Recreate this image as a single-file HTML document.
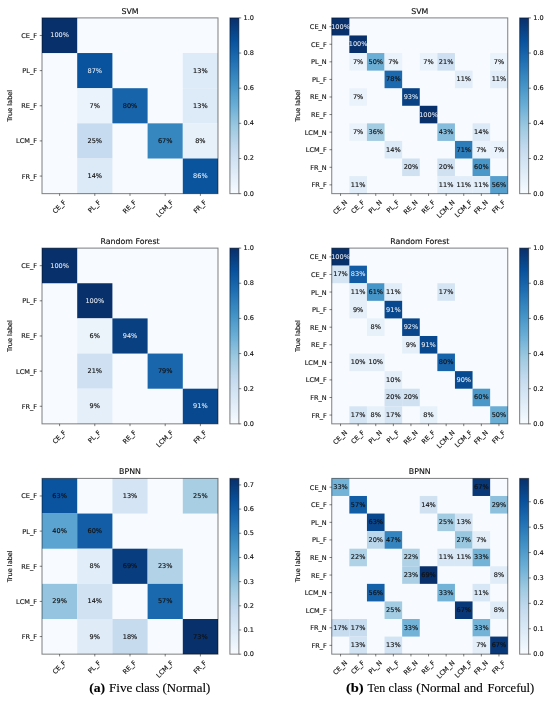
<!DOCTYPE html><html><head><meta charset="utf-8"><title>Confusion matrices</title>
<style>html,body{margin:0;padding:0;background:#fff}svg{display:block}text{font-family:"DejaVu Sans","Liberation Sans",sans-serif;fill:#111;stroke:#111;stroke-width:.18px;stroke-opacity:.7}.cap{font-family:"Liberation Serif","DejaVu Serif",serif;fill:#000;stroke:#000;stroke-width:.2px;stroke-opacity:.6}</style></head><body>
<svg width="550" height="701" viewBox="0 0 550 701">
<rect width="550" height="701" fill="#fff"/>
<defs>
<linearGradient id="cb" x1="0" y1="1" x2="0" y2="0">
<stop offset="0.0000" stop-color="#f7fbff"/>
<stop offset="0.0312" stop-color="#f1f7fd"/>
<stop offset="0.0625" stop-color="#eaf3fb"/>
<stop offset="0.0938" stop-color="#e4eff9"/>
<stop offset="0.1250" stop-color="#deebf7"/>
<stop offset="0.1562" stop-color="#d8e7f5"/>
<stop offset="0.1875" stop-color="#d2e3f3"/>
<stop offset="0.2188" stop-color="#ccdff1"/>
<stop offset="0.2500" stop-color="#c6dbef"/>
<stop offset="0.2812" stop-color="#bcd7eb"/>
<stop offset="0.3125" stop-color="#b2d2e8"/>
<stop offset="0.3438" stop-color="#a8cee4"/>
<stop offset="0.3750" stop-color="#9dcae1"/>
<stop offset="0.4062" stop-color="#91c3de"/>
<stop offset="0.4375" stop-color="#84bcdb"/>
<stop offset="0.4688" stop-color="#77b5d9"/>
<stop offset="0.5000" stop-color="#6aaed6"/>
<stop offset="0.5312" stop-color="#60a7d2"/>
<stop offset="0.5625" stop-color="#56a0ce"/>
<stop offset="0.5938" stop-color="#4b98ca"/>
<stop offset="0.6250" stop-color="#4191c6"/>
<stop offset="0.6562" stop-color="#3989c1"/>
<stop offset="0.6875" stop-color="#3181bd"/>
<stop offset="0.7188" stop-color="#2979b9"/>
<stop offset="0.7500" stop-color="#2070b4"/>
<stop offset="0.7812" stop-color="#1a68ae"/>
<stop offset="0.8125" stop-color="#1460a8"/>
<stop offset="0.8438" stop-color="#0e58a2"/>
<stop offset="0.8750" stop-color="#08509b"/>
<stop offset="0.9062" stop-color="#08488e"/>
<stop offset="0.9375" stop-color="#084082"/>
<stop offset="0.9688" stop-color="#083776"/>
<stop offset="1.0000" stop-color="#08306b"/>
</linearGradient>
</defs>
<g>
<rect x="42.00" y="17.90" width="176.00" height="175.75" fill="#f7fbff"/>
<rect x="42.00" y="17.90" width="35.20" height="35.15" fill="#08306b"/>
<rect x="77.20" y="53.05" width="35.20" height="35.15" fill="#09529d"/>
<rect x="182.80" y="53.05" width="35.20" height="35.15" fill="#ddeaf7"/>
<rect x="77.20" y="88.20" width="35.20" height="35.15" fill="#eaf2fb"/>
<rect x="112.40" y="88.20" width="35.20" height="35.15" fill="#1764ab"/>
<rect x="182.80" y="88.20" width="35.20" height="35.15" fill="#ddeaf7"/>
<rect x="77.20" y="123.35" width="35.20" height="35.15" fill="#c6dbef"/>
<rect x="147.60" y="123.35" width="35.20" height="35.15" fill="#3686c0"/>
<rect x="182.80" y="123.35" width="35.20" height="35.15" fill="#e7f1fa"/>
<rect x="77.20" y="158.50" width="35.20" height="35.15" fill="#dce9f6"/>
<rect x="182.80" y="158.50" width="35.20" height="35.15" fill="#0a549e"/>
<rect x="42.00" y="17.90" width="176.00" height="175.75" fill="none" stroke="#000" stroke-width="1" stroke-opacity="0.5"/>
<text x="59.60" y="37.44" font-size="6.55" text-anchor="middle" style="fill:#fff;fill-opacity:.9;stroke:#fff;stroke-opacity:.3">100%</text>
<text x="94.80" y="72.59" font-size="6.55" text-anchor="middle" style="fill:#fff;fill-opacity:.9;stroke:#fff;stroke-opacity:.3">87%</text>
<text x="200.40" y="72.59" font-size="6.55" text-anchor="middle">13%</text>
<text x="94.80" y="107.74" font-size="6.55" text-anchor="middle">7%</text>
<text x="130.00" y="107.74" font-size="6.55" text-anchor="middle">80%</text>
<text x="200.40" y="107.74" font-size="6.55" text-anchor="middle">13%</text>
<text x="94.80" y="142.89" font-size="6.55" text-anchor="middle">25%</text>
<text x="165.20" y="142.89" font-size="6.55" text-anchor="middle">67%</text>
<text x="200.40" y="142.89" font-size="6.55" text-anchor="middle">8%</text>
<text x="94.80" y="178.04" font-size="6.55" text-anchor="middle">14%</text>
<text x="200.40" y="178.04" font-size="6.55" text-anchor="middle" style="fill:#fff;fill-opacity:.9;stroke:#fff;stroke-opacity:.3">86%</text>
<text x="130.00" y="13.70" font-size="7.86" text-anchor="middle">SVM</text>
<line x1="39.70" y1="35.47" x2="42.00" y2="35.47" stroke="#000" stroke-width="1" stroke-opacity="0.5"/>
<text x="37.00" y="37.96" font-size="6.55" text-anchor="end">CE_F</text>
<line x1="39.70" y1="70.62" x2="42.00" y2="70.62" stroke="#000" stroke-width="1" stroke-opacity="0.5"/>
<text x="37.00" y="73.11" font-size="6.55" text-anchor="end">PL_F</text>
<line x1="39.70" y1="105.78" x2="42.00" y2="105.78" stroke="#000" stroke-width="1" stroke-opacity="0.5"/>
<text x="37.00" y="108.26" font-size="6.55" text-anchor="end">RE_F</text>
<line x1="39.70" y1="140.92" x2="42.00" y2="140.92" stroke="#000" stroke-width="1" stroke-opacity="0.5"/>
<text x="37.00" y="143.41" font-size="6.55" text-anchor="end">LCM_F</text>
<line x1="39.70" y1="176.07" x2="42.00" y2="176.07" stroke="#000" stroke-width="1" stroke-opacity="0.5"/>
<text x="37.00" y="178.56" font-size="6.55" text-anchor="end">FR_F</text>
<line x1="59.60" y1="193.65" x2="59.60" y2="195.95" stroke="#000" stroke-width="1" stroke-opacity="0.5"/>
<text font-size="6.55" text-anchor="middle" transform="translate(59.60,207.25) rotate(-45)" y="1.67">CE_F</text>
<line x1="94.80" y1="193.65" x2="94.80" y2="195.95" stroke="#000" stroke-width="1" stroke-opacity="0.5"/>
<text font-size="6.55" text-anchor="middle" transform="translate(94.80,206.85) rotate(-45)" y="1.67">PL_F</text>
<line x1="130.00" y1="193.65" x2="130.00" y2="195.95" stroke="#000" stroke-width="1" stroke-opacity="0.5"/>
<text font-size="6.55" text-anchor="middle" transform="translate(130.00,207.24) rotate(-45)" y="1.67">RE_F</text>
<line x1="165.20" y1="193.65" x2="165.20" y2="195.95" stroke="#000" stroke-width="1" stroke-opacity="0.5"/>
<text font-size="6.55" text-anchor="middle" transform="translate(165.20,209.07) rotate(-45)" y="1.67">LCM_F</text>
<line x1="200.40" y1="193.65" x2="200.40" y2="195.95" stroke="#000" stroke-width="1" stroke-opacity="0.5"/>
<text font-size="6.55" text-anchor="middle" transform="translate(200.40,207.11) rotate(-45)" y="1.67">FR_F</text>
<text font-size="6.55" text-anchor="middle" transform="translate(11.70,105.78) rotate(-90)">True label</text>
<rect x="229.90" y="17.90" width="9.00" height="175.75" fill="url(#cb)" stroke="#000" stroke-width="1" stroke-opacity="0.5"/>
<line x1="238.90" y1="193.65" x2="241.20" y2="193.65" stroke="#000" stroke-width="1" stroke-opacity="0.5"/>
<text x="243.50" y="195.62" font-size="6.55">0.0</text>
<line x1="238.90" y1="158.50" x2="241.20" y2="158.50" stroke="#000" stroke-width="1" stroke-opacity="0.5"/>
<text x="243.50" y="160.47" font-size="6.55">0.2</text>
<line x1="238.90" y1="123.35" x2="241.20" y2="123.35" stroke="#000" stroke-width="1" stroke-opacity="0.5"/>
<text x="243.50" y="125.32" font-size="6.55">0.4</text>
<line x1="238.90" y1="88.20" x2="241.20" y2="88.20" stroke="#000" stroke-width="1" stroke-opacity="0.5"/>
<text x="243.50" y="90.17" font-size="6.55">0.6</text>
<line x1="238.90" y1="53.05" x2="241.20" y2="53.05" stroke="#000" stroke-width="1" stroke-opacity="0.5"/>
<text x="243.50" y="55.02" font-size="6.55">0.8</text>
<line x1="238.90" y1="17.90" x2="241.20" y2="17.90" stroke="#000" stroke-width="1" stroke-opacity="0.5"/>
<text x="243.50" y="19.87" font-size="6.55">1.0</text>
</g>
<g>
<rect x="42.00" y="248.10" width="176.00" height="175.75" fill="#f7fbff"/>
<rect x="42.00" y="248.10" width="35.20" height="35.15" fill="#08306b"/>
<rect x="77.20" y="283.25" width="35.20" height="35.15" fill="#08306b"/>
<rect x="77.20" y="318.40" width="35.20" height="35.15" fill="#ebf3fb"/>
<rect x="112.40" y="318.40" width="35.20" height="35.15" fill="#084082"/>
<rect x="77.20" y="353.55" width="35.20" height="35.15" fill="#cee0f2"/>
<rect x="147.60" y="353.55" width="35.20" height="35.15" fill="#1966ad"/>
<rect x="77.20" y="388.70" width="35.20" height="35.15" fill="#e5eff9"/>
<rect x="182.80" y="388.70" width="35.20" height="35.15" fill="#08488e"/>
<rect x="42.00" y="248.10" width="176.00" height="175.75" fill="none" stroke="#000" stroke-width="1" stroke-opacity="0.5"/>
<text x="59.60" y="267.64" font-size="6.55" text-anchor="middle" style="fill:#fff;fill-opacity:.9;stroke:#fff;stroke-opacity:.3">100%</text>
<text x="94.80" y="302.79" font-size="6.55" text-anchor="middle" style="fill:#fff;fill-opacity:.9;stroke:#fff;stroke-opacity:.3">100%</text>
<text x="94.80" y="337.94" font-size="6.55" text-anchor="middle">6%</text>
<text x="130.00" y="337.94" font-size="6.55" text-anchor="middle" style="fill:#fff;fill-opacity:.9;stroke:#fff;stroke-opacity:.3">94%</text>
<text x="94.80" y="373.09" font-size="6.55" text-anchor="middle">21%</text>
<text x="165.20" y="373.09" font-size="6.55" text-anchor="middle">79%</text>
<text x="94.80" y="408.24" font-size="6.55" text-anchor="middle">9%</text>
<text x="200.40" y="408.24" font-size="6.55" text-anchor="middle" style="fill:#fff;fill-opacity:.9;stroke:#fff;stroke-opacity:.3">91%</text>
<text x="130.00" y="243.90" font-size="7.86" text-anchor="middle">Random Forest</text>
<line x1="39.70" y1="265.68" x2="42.00" y2="265.68" stroke="#000" stroke-width="1" stroke-opacity="0.5"/>
<text x="37.00" y="268.16" font-size="6.55" text-anchor="end">CE_F</text>
<line x1="39.70" y1="300.82" x2="42.00" y2="300.82" stroke="#000" stroke-width="1" stroke-opacity="0.5"/>
<text x="37.00" y="303.31" font-size="6.55" text-anchor="end">PL_F</text>
<line x1="39.70" y1="335.98" x2="42.00" y2="335.98" stroke="#000" stroke-width="1" stroke-opacity="0.5"/>
<text x="37.00" y="338.46" font-size="6.55" text-anchor="end">RE_F</text>
<line x1="39.70" y1="371.12" x2="42.00" y2="371.12" stroke="#000" stroke-width="1" stroke-opacity="0.5"/>
<text x="37.00" y="373.61" font-size="6.55" text-anchor="end">LCM_F</text>
<line x1="39.70" y1="406.27" x2="42.00" y2="406.27" stroke="#000" stroke-width="1" stroke-opacity="0.5"/>
<text x="37.00" y="408.76" font-size="6.55" text-anchor="end">FR_F</text>
<line x1="59.60" y1="423.85" x2="59.60" y2="426.15" stroke="#000" stroke-width="1" stroke-opacity="0.5"/>
<text font-size="6.55" text-anchor="middle" transform="translate(59.60,437.45) rotate(-45)" y="1.67">CE_F</text>
<line x1="94.80" y1="423.85" x2="94.80" y2="426.15" stroke="#000" stroke-width="1" stroke-opacity="0.5"/>
<text font-size="6.55" text-anchor="middle" transform="translate(94.80,437.05) rotate(-45)" y="1.67">PL_F</text>
<line x1="130.00" y1="423.85" x2="130.00" y2="426.15" stroke="#000" stroke-width="1" stroke-opacity="0.5"/>
<text font-size="6.55" text-anchor="middle" transform="translate(130.00,437.44) rotate(-45)" y="1.67">RE_F</text>
<line x1="165.20" y1="423.85" x2="165.20" y2="426.15" stroke="#000" stroke-width="1" stroke-opacity="0.5"/>
<text font-size="6.55" text-anchor="middle" transform="translate(165.20,439.27) rotate(-45)" y="1.67">LCM_F</text>
<line x1="200.40" y1="423.85" x2="200.40" y2="426.15" stroke="#000" stroke-width="1" stroke-opacity="0.5"/>
<text font-size="6.55" text-anchor="middle" transform="translate(200.40,437.31) rotate(-45)" y="1.67">FR_F</text>
<text font-size="6.55" text-anchor="middle" transform="translate(11.70,335.98) rotate(-90)">True label</text>
<rect x="229.90" y="248.10" width="9.00" height="175.75" fill="url(#cb)" stroke="#000" stroke-width="1" stroke-opacity="0.5"/>
<line x1="238.90" y1="423.85" x2="241.20" y2="423.85" stroke="#000" stroke-width="1" stroke-opacity="0.5"/>
<text x="243.50" y="425.81" font-size="6.55">0.0</text>
<line x1="238.90" y1="388.70" x2="241.20" y2="388.70" stroke="#000" stroke-width="1" stroke-opacity="0.5"/>
<text x="243.50" y="390.67" font-size="6.55">0.2</text>
<line x1="238.90" y1="353.55" x2="241.20" y2="353.55" stroke="#000" stroke-width="1" stroke-opacity="0.5"/>
<text x="243.50" y="355.51" font-size="6.55">0.4</text>
<line x1="238.90" y1="318.40" x2="241.20" y2="318.40" stroke="#000" stroke-width="1" stroke-opacity="0.5"/>
<text x="243.50" y="320.37" font-size="6.55">0.6</text>
<line x1="238.90" y1="283.25" x2="241.20" y2="283.25" stroke="#000" stroke-width="1" stroke-opacity="0.5"/>
<text x="243.50" y="285.21" font-size="6.55">0.8</text>
<line x1="238.90" y1="248.10" x2="241.20" y2="248.10" stroke="#000" stroke-width="1" stroke-opacity="0.5"/>
<text x="243.50" y="250.07" font-size="6.55">1.0</text>
</g>
<g>
<rect x="42.00" y="478.40" width="176.00" height="175.75" fill="#f7fbff"/>
<rect x="42.00" y="478.40" width="35.20" height="35.15" fill="#0a539e"/>
<rect x="112.40" y="478.40" width="35.20" height="35.15" fill="#d4e4f4"/>
<rect x="182.80" y="478.40" width="35.20" height="35.15" fill="#a8cee4"/>
<rect x="42.00" y="513.55" width="35.20" height="35.15" fill="#5ba3d0"/>
<rect x="77.20" y="513.55" width="35.20" height="35.15" fill="#125da6"/>
<rect x="77.20" y="548.70" width="35.20" height="35.15" fill="#e1edf8"/>
<rect x="112.40" y="548.70" width="35.20" height="35.15" fill="#083d7f"/>
<rect x="147.60" y="548.70" width="35.20" height="35.15" fill="#b2d2e8"/>
<rect x="42.00" y="583.85" width="35.20" height="35.15" fill="#94c4df"/>
<rect x="77.20" y="583.85" width="35.20" height="35.15" fill="#d1e2f3"/>
<rect x="147.60" y="583.85" width="35.20" height="35.15" fill="#1a68ae"/>
<rect x="77.20" y="619.00" width="35.20" height="35.15" fill="#dfebf7"/>
<rect x="112.40" y="619.00" width="35.20" height="35.15" fill="#c7dbef"/>
<rect x="182.80" y="619.00" width="35.20" height="35.15" fill="#08306b"/>
<rect x="42.00" y="478.40" width="176.00" height="175.75" fill="none" stroke="#000" stroke-width="1" stroke-opacity="0.5"/>
<text x="59.60" y="497.94" font-size="6.55" text-anchor="middle">63%</text>
<text x="130.00" y="497.94" font-size="6.55" text-anchor="middle">13%</text>
<text x="200.40" y="497.94" font-size="6.55" text-anchor="middle">25%</text>
<text x="59.60" y="533.09" font-size="6.55" text-anchor="middle">40%</text>
<text x="94.80" y="533.09" font-size="6.55" text-anchor="middle">60%</text>
<text x="94.80" y="568.24" font-size="6.55" text-anchor="middle">8%</text>
<text x="130.00" y="568.24" font-size="6.55" text-anchor="middle">69%</text>
<text x="165.20" y="568.24" font-size="6.55" text-anchor="middle">23%</text>
<text x="59.60" y="603.39" font-size="6.55" text-anchor="middle">29%</text>
<text x="94.80" y="603.39" font-size="6.55" text-anchor="middle">14%</text>
<text x="165.20" y="603.39" font-size="6.55" text-anchor="middle">57%</text>
<text x="94.80" y="638.54" font-size="6.55" text-anchor="middle">9%</text>
<text x="130.00" y="638.54" font-size="6.55" text-anchor="middle">18%</text>
<text x="200.40" y="638.54" font-size="6.55" text-anchor="middle">73%</text>
<text x="130.00" y="474.20" font-size="7.86" text-anchor="middle">BPNN</text>
<line x1="39.70" y1="495.97" x2="42.00" y2="495.97" stroke="#000" stroke-width="1" stroke-opacity="0.5"/>
<text x="37.00" y="498.46" font-size="6.55" text-anchor="end">CE_F</text>
<line x1="39.70" y1="531.12" x2="42.00" y2="531.12" stroke="#000" stroke-width="1" stroke-opacity="0.5"/>
<text x="37.00" y="533.61" font-size="6.55" text-anchor="end">PL_F</text>
<line x1="39.70" y1="566.27" x2="42.00" y2="566.27" stroke="#000" stroke-width="1" stroke-opacity="0.5"/>
<text x="37.00" y="568.76" font-size="6.55" text-anchor="end">RE_F</text>
<line x1="39.70" y1="601.42" x2="42.00" y2="601.42" stroke="#000" stroke-width="1" stroke-opacity="0.5"/>
<text x="37.00" y="603.91" font-size="6.55" text-anchor="end">LCM_F</text>
<line x1="39.70" y1="636.57" x2="42.00" y2="636.57" stroke="#000" stroke-width="1" stroke-opacity="0.5"/>
<text x="37.00" y="639.06" font-size="6.55" text-anchor="end">FR_F</text>
<line x1="59.60" y1="654.15" x2="59.60" y2="656.45" stroke="#000" stroke-width="1" stroke-opacity="0.5"/>
<text font-size="6.55" text-anchor="middle" transform="translate(59.60,667.75) rotate(-45)" y="1.67">CE_F</text>
<line x1="94.80" y1="654.15" x2="94.80" y2="656.45" stroke="#000" stroke-width="1" stroke-opacity="0.5"/>
<text font-size="6.55" text-anchor="middle" transform="translate(94.80,667.35) rotate(-45)" y="1.67">PL_F</text>
<line x1="130.00" y1="654.15" x2="130.00" y2="656.45" stroke="#000" stroke-width="1" stroke-opacity="0.5"/>
<text font-size="6.55" text-anchor="middle" transform="translate(130.00,667.74) rotate(-45)" y="1.67">RE_F</text>
<line x1="165.20" y1="654.15" x2="165.20" y2="656.45" stroke="#000" stroke-width="1" stroke-opacity="0.5"/>
<text font-size="6.55" text-anchor="middle" transform="translate(165.20,669.57) rotate(-45)" y="1.67">LCM_F</text>
<line x1="200.40" y1="654.15" x2="200.40" y2="656.45" stroke="#000" stroke-width="1" stroke-opacity="0.5"/>
<text font-size="6.55" text-anchor="middle" transform="translate(200.40,667.61) rotate(-45)" y="1.67">FR_F</text>
<text font-size="6.55" text-anchor="middle" transform="translate(11.70,566.27) rotate(-90)">True label</text>
<rect x="229.90" y="478.40" width="9.00" height="175.75" fill="url(#cb)" stroke="#000" stroke-width="1" stroke-opacity="0.5"/>
<line x1="238.90" y1="654.15" x2="241.20" y2="654.15" stroke="#000" stroke-width="1" stroke-opacity="0.5"/>
<text x="243.50" y="656.12" font-size="6.55">0.0</text>
<line x1="238.90" y1="629.98" x2="241.20" y2="629.98" stroke="#000" stroke-width="1" stroke-opacity="0.5"/>
<text x="243.50" y="631.94" font-size="6.55">0.1</text>
<line x1="238.90" y1="605.80" x2="241.20" y2="605.80" stroke="#000" stroke-width="1" stroke-opacity="0.5"/>
<text x="243.50" y="607.77" font-size="6.55">0.2</text>
<line x1="238.90" y1="581.63" x2="241.20" y2="581.63" stroke="#000" stroke-width="1" stroke-opacity="0.5"/>
<text x="243.50" y="583.59" font-size="6.55">0.3</text>
<line x1="238.90" y1="557.45" x2="241.20" y2="557.45" stroke="#000" stroke-width="1" stroke-opacity="0.5"/>
<text x="243.50" y="559.42" font-size="6.55">0.4</text>
<line x1="238.90" y1="533.28" x2="241.20" y2="533.28" stroke="#000" stroke-width="1" stroke-opacity="0.5"/>
<text x="243.50" y="535.24" font-size="6.55">0.5</text>
<line x1="238.90" y1="509.10" x2="241.20" y2="509.10" stroke="#000" stroke-width="1" stroke-opacity="0.5"/>
<text x="243.50" y="511.07" font-size="6.55">0.6</text>
<line x1="238.90" y1="484.93" x2="241.20" y2="484.93" stroke="#000" stroke-width="1" stroke-opacity="0.5"/>
<text x="243.50" y="486.89" font-size="6.55">0.7</text>
</g>
<g>
<rect x="331.75" y="17.90" width="176.00" height="175.75" fill="#f7fbff"/>
<rect x="331.75" y="17.90" width="17.60" height="17.57" fill="#08306b"/>
<rect x="349.35" y="35.47" width="17.60" height="17.57" fill="#08306b"/>
<rect x="349.35" y="53.05" width="17.60" height="17.57" fill="#eaf2fb"/>
<rect x="366.95" y="53.05" width="17.60" height="17.57" fill="#6aaed6"/>
<rect x="384.55" y="53.05" width="17.60" height="17.57" fill="#eaf2fb"/>
<rect x="419.75" y="53.05" width="17.60" height="17.57" fill="#eaf2fb"/>
<rect x="437.35" y="53.05" width="17.60" height="17.57" fill="#cee0f2"/>
<rect x="490.15" y="53.05" width="17.60" height="17.57" fill="#eaf2fb"/>
<rect x="384.55" y="70.62" width="17.60" height="17.57" fill="#1b69af"/>
<rect x="454.95" y="70.62" width="17.60" height="17.57" fill="#e1edf8"/>
<rect x="490.15" y="70.62" width="17.60" height="17.57" fill="#e1edf8"/>
<rect x="349.35" y="88.20" width="17.60" height="17.57" fill="#eaf2fb"/>
<rect x="402.15" y="88.20" width="17.60" height="17.57" fill="#084285"/>
<rect x="419.75" y="105.78" width="17.60" height="17.57" fill="#08306b"/>
<rect x="349.35" y="123.35" width="17.60" height="17.57" fill="#eaf2fb"/>
<rect x="366.95" y="123.35" width="17.60" height="17.57" fill="#a3cce3"/>
<rect x="437.35" y="123.35" width="17.60" height="17.57" fill="#87bddc"/>
<rect x="472.55" y="123.35" width="17.60" height="17.57" fill="#dce9f6"/>
<rect x="384.55" y="140.92" width="17.60" height="17.57" fill="#dce9f6"/>
<rect x="454.95" y="140.92" width="17.60" height="17.57" fill="#2c7cba"/>
<rect x="472.55" y="140.92" width="17.60" height="17.57" fill="#eaf2fb"/>
<rect x="490.15" y="140.92" width="17.60" height="17.57" fill="#eaf2fb"/>
<rect x="402.15" y="158.50" width="17.60" height="17.57" fill="#d0e1f2"/>
<rect x="437.35" y="158.50" width="17.60" height="17.57" fill="#d0e1f2"/>
<rect x="472.55" y="158.50" width="17.60" height="17.57" fill="#4a98c9"/>
<rect x="349.35" y="176.07" width="17.60" height="17.57" fill="#e1edf8"/>
<rect x="437.35" y="176.07" width="17.60" height="17.57" fill="#e1edf8"/>
<rect x="454.95" y="176.07" width="17.60" height="17.57" fill="#e1edf8"/>
<rect x="472.55" y="176.07" width="17.60" height="17.57" fill="#e1edf8"/>
<rect x="490.15" y="176.07" width="17.60" height="17.57" fill="#57a0ce"/>
<rect x="331.75" y="17.90" width="176.00" height="175.75" fill="none" stroke="#000" stroke-width="1" stroke-opacity="0.5"/>
<text x="340.55" y="28.65" font-size="6.55" text-anchor="middle" style="fill:#fff;fill-opacity:.9;stroke:#fff;stroke-opacity:.3">100%</text>
<text x="358.15" y="46.23" font-size="6.55" text-anchor="middle" style="fill:#fff;fill-opacity:.9;stroke:#fff;stroke-opacity:.3">100%</text>
<text x="358.15" y="63.80" font-size="6.55" text-anchor="middle">7%</text>
<text x="375.75" y="63.80" font-size="6.55" text-anchor="middle">50%</text>
<text x="393.35" y="63.80" font-size="6.55" text-anchor="middle">7%</text>
<text x="428.55" y="63.80" font-size="6.55" text-anchor="middle">7%</text>
<text x="446.15" y="63.80" font-size="6.55" text-anchor="middle">21%</text>
<text x="498.95" y="63.80" font-size="6.55" text-anchor="middle">7%</text>
<text x="393.35" y="81.38" font-size="6.55" text-anchor="middle">78%</text>
<text x="463.75" y="81.38" font-size="6.55" text-anchor="middle">11%</text>
<text x="498.95" y="81.38" font-size="6.55" text-anchor="middle">11%</text>
<text x="358.15" y="98.95" font-size="6.55" text-anchor="middle">7%</text>
<text x="410.95" y="98.95" font-size="6.55" text-anchor="middle" style="fill:#fff;fill-opacity:.9;stroke:#fff;stroke-opacity:.3">93%</text>
<text x="428.55" y="116.53" font-size="6.55" text-anchor="middle" style="fill:#fff;fill-opacity:.9;stroke:#fff;stroke-opacity:.3">100%</text>
<text x="358.15" y="134.10" font-size="6.55" text-anchor="middle">7%</text>
<text x="375.75" y="134.10" font-size="6.55" text-anchor="middle">36%</text>
<text x="446.15" y="134.10" font-size="6.55" text-anchor="middle">43%</text>
<text x="481.35" y="134.10" font-size="6.55" text-anchor="middle">14%</text>
<text x="393.35" y="151.68" font-size="6.55" text-anchor="middle">14%</text>
<text x="463.75" y="151.68" font-size="6.55" text-anchor="middle">71%</text>
<text x="481.35" y="151.68" font-size="6.55" text-anchor="middle">7%</text>
<text x="498.95" y="151.68" font-size="6.55" text-anchor="middle">7%</text>
<text x="410.95" y="169.25" font-size="6.55" text-anchor="middle">20%</text>
<text x="446.15" y="169.25" font-size="6.55" text-anchor="middle">20%</text>
<text x="481.35" y="169.25" font-size="6.55" text-anchor="middle">60%</text>
<text x="358.15" y="186.83" font-size="6.55" text-anchor="middle">11%</text>
<text x="446.15" y="186.83" font-size="6.55" text-anchor="middle">11%</text>
<text x="463.75" y="186.83" font-size="6.55" text-anchor="middle">11%</text>
<text x="481.35" y="186.83" font-size="6.55" text-anchor="middle">11%</text>
<text x="498.95" y="186.83" font-size="6.55" text-anchor="middle">56%</text>
<text x="419.75" y="13.70" font-size="7.86" text-anchor="middle">SVM</text>
<line x1="329.45" y1="26.69" x2="331.75" y2="26.69" stroke="#000" stroke-width="1" stroke-opacity="0.5"/>
<text x="326.75" y="29.18" font-size="6.55" text-anchor="end">CE_N</text>
<line x1="329.45" y1="44.26" x2="331.75" y2="44.26" stroke="#000" stroke-width="1" stroke-opacity="0.5"/>
<text x="326.75" y="46.75" font-size="6.55" text-anchor="end">CE_F</text>
<line x1="329.45" y1="61.84" x2="331.75" y2="61.84" stroke="#000" stroke-width="1" stroke-opacity="0.5"/>
<text x="326.75" y="64.33" font-size="6.55" text-anchor="end">PL_N</text>
<line x1="329.45" y1="79.41" x2="331.75" y2="79.41" stroke="#000" stroke-width="1" stroke-opacity="0.5"/>
<text x="326.75" y="81.90" font-size="6.55" text-anchor="end">PL_F</text>
<line x1="329.45" y1="96.99" x2="331.75" y2="96.99" stroke="#000" stroke-width="1" stroke-opacity="0.5"/>
<text x="326.75" y="99.48" font-size="6.55" text-anchor="end">RE_N</text>
<line x1="329.45" y1="114.56" x2="331.75" y2="114.56" stroke="#000" stroke-width="1" stroke-opacity="0.5"/>
<text x="326.75" y="117.05" font-size="6.55" text-anchor="end">RE_F</text>
<line x1="329.45" y1="132.14" x2="331.75" y2="132.14" stroke="#000" stroke-width="1" stroke-opacity="0.5"/>
<text x="326.75" y="134.63" font-size="6.55" text-anchor="end">LCM_N</text>
<line x1="329.45" y1="149.71" x2="331.75" y2="149.71" stroke="#000" stroke-width="1" stroke-opacity="0.5"/>
<text x="326.75" y="152.20" font-size="6.55" text-anchor="end">LCM_F</text>
<line x1="329.45" y1="167.29" x2="331.75" y2="167.29" stroke="#000" stroke-width="1" stroke-opacity="0.5"/>
<text x="326.75" y="169.78" font-size="6.55" text-anchor="end">FR_N</text>
<line x1="329.45" y1="184.86" x2="331.75" y2="184.86" stroke="#000" stroke-width="1" stroke-opacity="0.5"/>
<text x="326.75" y="187.35" font-size="6.55" text-anchor="end">FR_F</text>
<line x1="340.55" y1="193.65" x2="340.55" y2="195.95" stroke="#000" stroke-width="1" stroke-opacity="0.5"/>
<text font-size="6.55" text-anchor="middle" transform="translate(340.55,207.65) rotate(-45)" y="1.67">CE_N</text>
<line x1="358.15" y1="193.65" x2="358.15" y2="195.95" stroke="#000" stroke-width="1" stroke-opacity="0.5"/>
<text font-size="6.55" text-anchor="middle" transform="translate(358.15,207.25) rotate(-45)" y="1.67">CE_F</text>
<line x1="375.75" y1="193.65" x2="375.75" y2="195.95" stroke="#000" stroke-width="1" stroke-opacity="0.5"/>
<text font-size="6.55" text-anchor="middle" transform="translate(375.75,207.25) rotate(-45)" y="1.67">PL_N</text>
<line x1="393.35" y1="193.65" x2="393.35" y2="195.95" stroke="#000" stroke-width="1" stroke-opacity="0.5"/>
<text font-size="6.55" text-anchor="middle" transform="translate(393.35,206.85) rotate(-45)" y="1.67">PL_F</text>
<line x1="410.95" y1="193.65" x2="410.95" y2="195.95" stroke="#000" stroke-width="1" stroke-opacity="0.5"/>
<text font-size="6.55" text-anchor="middle" transform="translate(410.95,207.64) rotate(-45)" y="1.67">RE_N</text>
<line x1="428.55" y1="193.65" x2="428.55" y2="195.95" stroke="#000" stroke-width="1" stroke-opacity="0.5"/>
<text font-size="6.55" text-anchor="middle" transform="translate(428.55,207.24) rotate(-45)" y="1.67">RE_F</text>
<line x1="446.15" y1="193.65" x2="446.15" y2="195.95" stroke="#000" stroke-width="1" stroke-opacity="0.5"/>
<text font-size="6.55" text-anchor="middle" transform="translate(446.15,209.47) rotate(-45)" y="1.67">LCM_N</text>
<line x1="463.75" y1="193.65" x2="463.75" y2="195.95" stroke="#000" stroke-width="1" stroke-opacity="0.5"/>
<text font-size="6.55" text-anchor="middle" transform="translate(463.75,209.07) rotate(-45)" y="1.67">LCM_F</text>
<line x1="481.35" y1="193.65" x2="481.35" y2="195.95" stroke="#000" stroke-width="1" stroke-opacity="0.5"/>
<text font-size="6.55" text-anchor="middle" transform="translate(481.35,207.51) rotate(-45)" y="1.67">FR_N</text>
<line x1="498.95" y1="193.65" x2="498.95" y2="195.95" stroke="#000" stroke-width="1" stroke-opacity="0.5"/>
<text font-size="6.55" text-anchor="middle" transform="translate(498.95,207.11) rotate(-45)" y="1.67">FR_F</text>
<text font-size="6.55" text-anchor="middle" transform="translate(300.25,105.78) rotate(-90)">True label</text>
<rect x="519.65" y="17.90" width="9.00" height="175.75" fill="url(#cb)" stroke="#000" stroke-width="1" stroke-opacity="0.5"/>
<line x1="528.65" y1="193.65" x2="530.95" y2="193.65" stroke="#000" stroke-width="1" stroke-opacity="0.5"/>
<text x="533.25" y="195.62" font-size="6.55">0.0</text>
<line x1="528.65" y1="158.50" x2="530.95" y2="158.50" stroke="#000" stroke-width="1" stroke-opacity="0.5"/>
<text x="533.25" y="160.47" font-size="6.55">0.2</text>
<line x1="528.65" y1="123.35" x2="530.95" y2="123.35" stroke="#000" stroke-width="1" stroke-opacity="0.5"/>
<text x="533.25" y="125.32" font-size="6.55">0.4</text>
<line x1="528.65" y1="88.20" x2="530.95" y2="88.20" stroke="#000" stroke-width="1" stroke-opacity="0.5"/>
<text x="533.25" y="90.17" font-size="6.55">0.6</text>
<line x1="528.65" y1="53.05" x2="530.95" y2="53.05" stroke="#000" stroke-width="1" stroke-opacity="0.5"/>
<text x="533.25" y="55.02" font-size="6.55">0.8</text>
<line x1="528.65" y1="17.90" x2="530.95" y2="17.90" stroke="#000" stroke-width="1" stroke-opacity="0.5"/>
<text x="533.25" y="19.87" font-size="6.55">1.0</text>
</g>
<g>
<rect x="331.75" y="248.10" width="176.00" height="175.75" fill="#f7fbff"/>
<rect x="331.75" y="248.10" width="17.60" height="17.57" fill="#08306b"/>
<rect x="331.75" y="265.68" width="17.60" height="17.57" fill="#d6e5f4"/>
<rect x="349.35" y="265.68" width="17.60" height="17.57" fill="#115ca5"/>
<rect x="349.35" y="283.25" width="17.60" height="17.57" fill="#e1edf8"/>
<rect x="366.95" y="283.25" width="17.60" height="17.57" fill="#4695c8"/>
<rect x="384.55" y="283.25" width="17.60" height="17.57" fill="#e1edf8"/>
<rect x="437.35" y="283.25" width="17.60" height="17.57" fill="#d6e5f4"/>
<rect x="349.35" y="300.82" width="17.60" height="17.57" fill="#e5eff9"/>
<rect x="384.55" y="300.82" width="17.60" height="17.57" fill="#08488e"/>
<rect x="366.95" y="318.40" width="17.60" height="17.57" fill="#e7f1fa"/>
<rect x="402.15" y="318.40" width="17.60" height="17.57" fill="#08458a"/>
<rect x="402.15" y="335.98" width="17.60" height="17.57" fill="#e5eff9"/>
<rect x="419.75" y="335.98" width="17.60" height="17.57" fill="#08488e"/>
<rect x="349.35" y="353.55" width="17.60" height="17.57" fill="#e3eef9"/>
<rect x="366.95" y="353.55" width="17.60" height="17.57" fill="#e3eef9"/>
<rect x="437.35" y="353.55" width="17.60" height="17.57" fill="#1764ab"/>
<rect x="384.55" y="371.12" width="17.60" height="17.57" fill="#e3eef9"/>
<rect x="454.95" y="371.12" width="17.60" height="17.57" fill="#084a91"/>
<rect x="384.55" y="388.70" width="17.60" height="17.57" fill="#d0e1f2"/>
<rect x="402.15" y="388.70" width="17.60" height="17.57" fill="#d0e1f2"/>
<rect x="472.55" y="388.70" width="17.60" height="17.57" fill="#4a98c9"/>
<rect x="349.35" y="406.27" width="17.60" height="17.57" fill="#d6e5f4"/>
<rect x="366.95" y="406.27" width="17.60" height="17.57" fill="#e7f1fa"/>
<rect x="384.55" y="406.27" width="17.60" height="17.57" fill="#d6e5f4"/>
<rect x="419.75" y="406.27" width="17.60" height="17.57" fill="#e7f1fa"/>
<rect x="490.15" y="406.27" width="17.60" height="17.57" fill="#6aaed6"/>
<rect x="331.75" y="248.10" width="176.00" height="175.75" fill="none" stroke="#000" stroke-width="1" stroke-opacity="0.5"/>
<text x="340.55" y="258.85" font-size="6.55" text-anchor="middle" style="fill:#fff;fill-opacity:.9;stroke:#fff;stroke-opacity:.3">100%</text>
<text x="340.55" y="276.43" font-size="6.55" text-anchor="middle">17%</text>
<text x="358.15" y="276.43" font-size="6.55" text-anchor="middle" style="fill:#fff;fill-opacity:.9;stroke:#fff;stroke-opacity:.3">83%</text>
<text x="358.15" y="294.00" font-size="6.55" text-anchor="middle">11%</text>
<text x="375.75" y="294.00" font-size="6.55" text-anchor="middle">61%</text>
<text x="393.35" y="294.00" font-size="6.55" text-anchor="middle">11%</text>
<text x="446.15" y="294.00" font-size="6.55" text-anchor="middle">17%</text>
<text x="358.15" y="311.58" font-size="6.55" text-anchor="middle">9%</text>
<text x="393.35" y="311.58" font-size="6.55" text-anchor="middle" style="fill:#fff;fill-opacity:.9;stroke:#fff;stroke-opacity:.3">91%</text>
<text x="375.75" y="329.15" font-size="6.55" text-anchor="middle">8%</text>
<text x="410.95" y="329.15" font-size="6.55" text-anchor="middle" style="fill:#fff;fill-opacity:.9;stroke:#fff;stroke-opacity:.3">92%</text>
<text x="410.95" y="346.73" font-size="6.55" text-anchor="middle">9%</text>
<text x="428.55" y="346.73" font-size="6.55" text-anchor="middle" style="fill:#fff;fill-opacity:.9;stroke:#fff;stroke-opacity:.3">91%</text>
<text x="358.15" y="364.30" font-size="6.55" text-anchor="middle">10%</text>
<text x="375.75" y="364.30" font-size="6.55" text-anchor="middle">10%</text>
<text x="446.15" y="364.30" font-size="6.55" text-anchor="middle">80%</text>
<text x="393.35" y="381.88" font-size="6.55" text-anchor="middle">10%</text>
<text x="463.75" y="381.88" font-size="6.55" text-anchor="middle" style="fill:#fff;fill-opacity:.9;stroke:#fff;stroke-opacity:.3">90%</text>
<text x="393.35" y="399.45" font-size="6.55" text-anchor="middle">20%</text>
<text x="410.95" y="399.45" font-size="6.55" text-anchor="middle">20%</text>
<text x="481.35" y="399.45" font-size="6.55" text-anchor="middle">60%</text>
<text x="358.15" y="417.03" font-size="6.55" text-anchor="middle">17%</text>
<text x="375.75" y="417.03" font-size="6.55" text-anchor="middle">8%</text>
<text x="393.35" y="417.03" font-size="6.55" text-anchor="middle">17%</text>
<text x="428.55" y="417.03" font-size="6.55" text-anchor="middle">8%</text>
<text x="498.95" y="417.03" font-size="6.55" text-anchor="middle">50%</text>
<text x="419.75" y="243.90" font-size="7.86" text-anchor="middle">Random Forest</text>
<line x1="329.45" y1="256.89" x2="331.75" y2="256.89" stroke="#000" stroke-width="1" stroke-opacity="0.5"/>
<text x="326.75" y="259.38" font-size="6.55" text-anchor="end">CE_N</text>
<line x1="329.45" y1="274.46" x2="331.75" y2="274.46" stroke="#000" stroke-width="1" stroke-opacity="0.5"/>
<text x="326.75" y="276.95" font-size="6.55" text-anchor="end">CE_F</text>
<line x1="329.45" y1="292.04" x2="331.75" y2="292.04" stroke="#000" stroke-width="1" stroke-opacity="0.5"/>
<text x="326.75" y="294.53" font-size="6.55" text-anchor="end">PL_N</text>
<line x1="329.45" y1="309.61" x2="331.75" y2="309.61" stroke="#000" stroke-width="1" stroke-opacity="0.5"/>
<text x="326.75" y="312.10" font-size="6.55" text-anchor="end">PL_F</text>
<line x1="329.45" y1="327.19" x2="331.75" y2="327.19" stroke="#000" stroke-width="1" stroke-opacity="0.5"/>
<text x="326.75" y="329.68" font-size="6.55" text-anchor="end">RE_N</text>
<line x1="329.45" y1="344.76" x2="331.75" y2="344.76" stroke="#000" stroke-width="1" stroke-opacity="0.5"/>
<text x="326.75" y="347.25" font-size="6.55" text-anchor="end">RE_F</text>
<line x1="329.45" y1="362.34" x2="331.75" y2="362.34" stroke="#000" stroke-width="1" stroke-opacity="0.5"/>
<text x="326.75" y="364.83" font-size="6.55" text-anchor="end">LCM_N</text>
<line x1="329.45" y1="379.91" x2="331.75" y2="379.91" stroke="#000" stroke-width="1" stroke-opacity="0.5"/>
<text x="326.75" y="382.40" font-size="6.55" text-anchor="end">LCM_F</text>
<line x1="329.45" y1="397.49" x2="331.75" y2="397.49" stroke="#000" stroke-width="1" stroke-opacity="0.5"/>
<text x="326.75" y="399.98" font-size="6.55" text-anchor="end">FR_N</text>
<line x1="329.45" y1="415.06" x2="331.75" y2="415.06" stroke="#000" stroke-width="1" stroke-opacity="0.5"/>
<text x="326.75" y="417.55" font-size="6.55" text-anchor="end">FR_F</text>
<line x1="340.55" y1="423.85" x2="340.55" y2="426.15" stroke="#000" stroke-width="1" stroke-opacity="0.5"/>
<text font-size="6.55" text-anchor="middle" transform="translate(340.55,437.85) rotate(-45)" y="1.67">CE_N</text>
<line x1="358.15" y1="423.85" x2="358.15" y2="426.15" stroke="#000" stroke-width="1" stroke-opacity="0.5"/>
<text font-size="6.55" text-anchor="middle" transform="translate(358.15,437.45) rotate(-45)" y="1.67">CE_F</text>
<line x1="375.75" y1="423.85" x2="375.75" y2="426.15" stroke="#000" stroke-width="1" stroke-opacity="0.5"/>
<text font-size="6.55" text-anchor="middle" transform="translate(375.75,437.45) rotate(-45)" y="1.67">PL_N</text>
<line x1="393.35" y1="423.85" x2="393.35" y2="426.15" stroke="#000" stroke-width="1" stroke-opacity="0.5"/>
<text font-size="6.55" text-anchor="middle" transform="translate(393.35,437.05) rotate(-45)" y="1.67">PL_F</text>
<line x1="410.95" y1="423.85" x2="410.95" y2="426.15" stroke="#000" stroke-width="1" stroke-opacity="0.5"/>
<text font-size="6.55" text-anchor="middle" transform="translate(410.95,437.84) rotate(-45)" y="1.67">RE_N</text>
<line x1="428.55" y1="423.85" x2="428.55" y2="426.15" stroke="#000" stroke-width="1" stroke-opacity="0.5"/>
<text font-size="6.55" text-anchor="middle" transform="translate(428.55,437.44) rotate(-45)" y="1.67">RE_F</text>
<line x1="446.15" y1="423.85" x2="446.15" y2="426.15" stroke="#000" stroke-width="1" stroke-opacity="0.5"/>
<text font-size="6.55" text-anchor="middle" transform="translate(446.15,439.67) rotate(-45)" y="1.67">LCM_N</text>
<line x1="463.75" y1="423.85" x2="463.75" y2="426.15" stroke="#000" stroke-width="1" stroke-opacity="0.5"/>
<text font-size="6.55" text-anchor="middle" transform="translate(463.75,439.27) rotate(-45)" y="1.67">LCM_F</text>
<line x1="481.35" y1="423.85" x2="481.35" y2="426.15" stroke="#000" stroke-width="1" stroke-opacity="0.5"/>
<text font-size="6.55" text-anchor="middle" transform="translate(481.35,437.71) rotate(-45)" y="1.67">FR_N</text>
<line x1="498.95" y1="423.85" x2="498.95" y2="426.15" stroke="#000" stroke-width="1" stroke-opacity="0.5"/>
<text font-size="6.55" text-anchor="middle" transform="translate(498.95,437.31) rotate(-45)" y="1.67">FR_F</text>
<text font-size="6.55" text-anchor="middle" transform="translate(300.25,335.98) rotate(-90)">True label</text>
<rect x="519.65" y="248.10" width="9.00" height="175.75" fill="url(#cb)" stroke="#000" stroke-width="1" stroke-opacity="0.5"/>
<line x1="528.65" y1="423.85" x2="530.95" y2="423.85" stroke="#000" stroke-width="1" stroke-opacity="0.5"/>
<text x="533.25" y="425.81" font-size="6.55">0.0</text>
<line x1="528.65" y1="388.70" x2="530.95" y2="388.70" stroke="#000" stroke-width="1" stroke-opacity="0.5"/>
<text x="533.25" y="390.67" font-size="6.55">0.2</text>
<line x1="528.65" y1="353.55" x2="530.95" y2="353.55" stroke="#000" stroke-width="1" stroke-opacity="0.5"/>
<text x="533.25" y="355.51" font-size="6.55">0.4</text>
<line x1="528.65" y1="318.40" x2="530.95" y2="318.40" stroke="#000" stroke-width="1" stroke-opacity="0.5"/>
<text x="533.25" y="320.37" font-size="6.55">0.6</text>
<line x1="528.65" y1="283.25" x2="530.95" y2="283.25" stroke="#000" stroke-width="1" stroke-opacity="0.5"/>
<text x="533.25" y="285.21" font-size="6.55">0.8</text>
<line x1="528.65" y1="248.10" x2="530.95" y2="248.10" stroke="#000" stroke-width="1" stroke-opacity="0.5"/>
<text x="533.25" y="250.07" font-size="6.55">1.0</text>
</g>
<g>
<rect x="331.75" y="478.40" width="176.00" height="175.75" fill="#f7fbff"/>
<rect x="331.75" y="478.40" width="17.60" height="17.57" fill="#74b3d8"/>
<rect x="472.55" y="478.40" width="17.60" height="17.57" fill="#083877"/>
<rect x="349.35" y="495.97" width="17.60" height="17.57" fill="#125ea6"/>
<rect x="419.75" y="495.97" width="17.60" height="17.57" fill="#d0e1f2"/>
<rect x="490.15" y="495.97" width="17.60" height="17.57" fill="#8cc0dd"/>
<rect x="366.95" y="513.55" width="17.60" height="17.57" fill="#08478d"/>
<rect x="437.35" y="513.55" width="17.60" height="17.57" fill="#a3cce3"/>
<rect x="454.95" y="513.55" width="17.60" height="17.57" fill="#d2e3f3"/>
<rect x="366.95" y="531.12" width="17.60" height="17.57" fill="#bad6eb"/>
<rect x="384.55" y="531.12" width="17.60" height="17.57" fill="#3484bf"/>
<rect x="454.95" y="531.12" width="17.60" height="17.57" fill="#99c7e0"/>
<rect x="472.55" y="531.12" width="17.60" height="17.57" fill="#e3eef9"/>
<rect x="349.35" y="548.70" width="17.60" height="17.57" fill="#b0d2e7"/>
<rect x="402.15" y="548.70" width="17.60" height="17.57" fill="#b0d2e7"/>
<rect x="437.35" y="548.70" width="17.60" height="17.57" fill="#d8e7f5"/>
<rect x="454.95" y="548.70" width="17.60" height="17.57" fill="#d8e7f5"/>
<rect x="472.55" y="548.70" width="17.60" height="17.57" fill="#74b3d8"/>
<rect x="402.15" y="566.27" width="17.60" height="17.57" fill="#abd0e6"/>
<rect x="419.75" y="566.27" width="17.60" height="17.57" fill="#08306b"/>
<rect x="490.15" y="566.27" width="17.60" height="17.57" fill="#e0ecf8"/>
<rect x="366.95" y="583.85" width="17.60" height="17.57" fill="#1561a9"/>
<rect x="437.35" y="583.85" width="17.60" height="17.57" fill="#74b3d8"/>
<rect x="472.55" y="583.85" width="17.60" height="17.57" fill="#d8e7f5"/>
<rect x="384.55" y="601.42" width="17.60" height="17.57" fill="#a3cce3"/>
<rect x="454.95" y="601.42" width="17.60" height="17.57" fill="#083877"/>
<rect x="490.15" y="601.42" width="17.60" height="17.57" fill="#e0ecf8"/>
<rect x="331.75" y="619.00" width="17.60" height="17.57" fill="#c7dcef"/>
<rect x="349.35" y="619.00" width="17.60" height="17.57" fill="#c7dcef"/>
<rect x="402.15" y="619.00" width="17.60" height="17.57" fill="#74b3d8"/>
<rect x="472.55" y="619.00" width="17.60" height="17.57" fill="#74b3d8"/>
<rect x="349.35" y="636.57" width="17.60" height="17.57" fill="#d2e3f3"/>
<rect x="384.55" y="636.57" width="17.60" height="17.57" fill="#d2e3f3"/>
<rect x="472.55" y="636.57" width="17.60" height="17.57" fill="#e3eef9"/>
<rect x="490.15" y="636.57" width="17.60" height="17.57" fill="#083877"/>
<rect x="331.75" y="478.40" width="176.00" height="175.75" fill="none" stroke="#000" stroke-width="1" stroke-opacity="0.5"/>
<text x="340.55" y="489.15" font-size="6.55" text-anchor="middle">33%</text>
<text x="481.35" y="489.15" font-size="6.55" text-anchor="middle">67%</text>
<text x="358.15" y="506.73" font-size="6.55" text-anchor="middle">57%</text>
<text x="428.55" y="506.73" font-size="6.55" text-anchor="middle">14%</text>
<text x="498.95" y="506.73" font-size="6.55" text-anchor="middle">29%</text>
<text x="375.75" y="524.30" font-size="6.55" text-anchor="middle">63%</text>
<text x="446.15" y="524.30" font-size="6.55" text-anchor="middle">25%</text>
<text x="463.75" y="524.30" font-size="6.55" text-anchor="middle">13%</text>
<text x="375.75" y="541.88" font-size="6.55" text-anchor="middle">20%</text>
<text x="393.35" y="541.88" font-size="6.55" text-anchor="middle">47%</text>
<text x="463.75" y="541.88" font-size="6.55" text-anchor="middle">27%</text>
<text x="481.35" y="541.88" font-size="6.55" text-anchor="middle">7%</text>
<text x="358.15" y="559.45" font-size="6.55" text-anchor="middle">22%</text>
<text x="410.95" y="559.45" font-size="6.55" text-anchor="middle">22%</text>
<text x="446.15" y="559.45" font-size="6.55" text-anchor="middle">11%</text>
<text x="463.75" y="559.45" font-size="6.55" text-anchor="middle">11%</text>
<text x="481.35" y="559.45" font-size="6.55" text-anchor="middle">33%</text>
<text x="410.95" y="577.03" font-size="6.55" text-anchor="middle">23%</text>
<text x="428.55" y="577.03" font-size="6.55" text-anchor="middle">69%</text>
<text x="498.95" y="577.03" font-size="6.55" text-anchor="middle">8%</text>
<text x="375.75" y="594.60" font-size="6.55" text-anchor="middle">56%</text>
<text x="446.15" y="594.60" font-size="6.55" text-anchor="middle">33%</text>
<text x="481.35" y="594.60" font-size="6.55" text-anchor="middle">11%</text>
<text x="393.35" y="612.18" font-size="6.55" text-anchor="middle">25%</text>
<text x="463.75" y="612.18" font-size="6.55" text-anchor="middle">67%</text>
<text x="498.95" y="612.18" font-size="6.55" text-anchor="middle">8%</text>
<text x="340.55" y="629.75" font-size="6.55" text-anchor="middle">17%</text>
<text x="358.15" y="629.75" font-size="6.55" text-anchor="middle">17%</text>
<text x="410.95" y="629.75" font-size="6.55" text-anchor="middle">33%</text>
<text x="481.35" y="629.75" font-size="6.55" text-anchor="middle">33%</text>
<text x="358.15" y="647.33" font-size="6.55" text-anchor="middle">13%</text>
<text x="393.35" y="647.33" font-size="6.55" text-anchor="middle">13%</text>
<text x="481.35" y="647.33" font-size="6.55" text-anchor="middle">7%</text>
<text x="498.95" y="647.33" font-size="6.55" text-anchor="middle">67%</text>
<text x="419.75" y="474.20" font-size="7.86" text-anchor="middle">BPNN</text>
<line x1="329.45" y1="487.19" x2="331.75" y2="487.19" stroke="#000" stroke-width="1" stroke-opacity="0.5"/>
<text x="326.75" y="489.68" font-size="6.55" text-anchor="end">CE_N</text>
<line x1="329.45" y1="504.76" x2="331.75" y2="504.76" stroke="#000" stroke-width="1" stroke-opacity="0.5"/>
<text x="326.75" y="507.25" font-size="6.55" text-anchor="end">CE_F</text>
<line x1="329.45" y1="522.34" x2="331.75" y2="522.34" stroke="#000" stroke-width="1" stroke-opacity="0.5"/>
<text x="326.75" y="524.83" font-size="6.55" text-anchor="end">PL_N</text>
<line x1="329.45" y1="539.91" x2="331.75" y2="539.91" stroke="#000" stroke-width="1" stroke-opacity="0.5"/>
<text x="326.75" y="542.40" font-size="6.55" text-anchor="end">PL_F</text>
<line x1="329.45" y1="557.49" x2="331.75" y2="557.49" stroke="#000" stroke-width="1" stroke-opacity="0.5"/>
<text x="326.75" y="559.98" font-size="6.55" text-anchor="end">RE_N</text>
<line x1="329.45" y1="575.06" x2="331.75" y2="575.06" stroke="#000" stroke-width="1" stroke-opacity="0.5"/>
<text x="326.75" y="577.55" font-size="6.55" text-anchor="end">RE_F</text>
<line x1="329.45" y1="592.64" x2="331.75" y2="592.64" stroke="#000" stroke-width="1" stroke-opacity="0.5"/>
<text x="326.75" y="595.13" font-size="6.55" text-anchor="end">LCM_N</text>
<line x1="329.45" y1="610.21" x2="331.75" y2="610.21" stroke="#000" stroke-width="1" stroke-opacity="0.5"/>
<text x="326.75" y="612.70" font-size="6.55" text-anchor="end">LCM_F</text>
<line x1="329.45" y1="627.79" x2="331.75" y2="627.79" stroke="#000" stroke-width="1" stroke-opacity="0.5"/>
<text x="326.75" y="630.28" font-size="6.55" text-anchor="end">FR_N</text>
<line x1="329.45" y1="645.36" x2="331.75" y2="645.36" stroke="#000" stroke-width="1" stroke-opacity="0.5"/>
<text x="326.75" y="647.85" font-size="6.55" text-anchor="end">FR_F</text>
<line x1="340.55" y1="654.15" x2="340.55" y2="656.45" stroke="#000" stroke-width="1" stroke-opacity="0.5"/>
<text font-size="6.55" text-anchor="middle" transform="translate(340.55,668.15) rotate(-45)" y="1.67">CE_N</text>
<line x1="358.15" y1="654.15" x2="358.15" y2="656.45" stroke="#000" stroke-width="1" stroke-opacity="0.5"/>
<text font-size="6.55" text-anchor="middle" transform="translate(358.15,667.75) rotate(-45)" y="1.67">CE_F</text>
<line x1="375.75" y1="654.15" x2="375.75" y2="656.45" stroke="#000" stroke-width="1" stroke-opacity="0.5"/>
<text font-size="6.55" text-anchor="middle" transform="translate(375.75,667.75) rotate(-45)" y="1.67">PL_N</text>
<line x1="393.35" y1="654.15" x2="393.35" y2="656.45" stroke="#000" stroke-width="1" stroke-opacity="0.5"/>
<text font-size="6.55" text-anchor="middle" transform="translate(393.35,667.35) rotate(-45)" y="1.67">PL_F</text>
<line x1="410.95" y1="654.15" x2="410.95" y2="656.45" stroke="#000" stroke-width="1" stroke-opacity="0.5"/>
<text font-size="6.55" text-anchor="middle" transform="translate(410.95,668.14) rotate(-45)" y="1.67">RE_N</text>
<line x1="428.55" y1="654.15" x2="428.55" y2="656.45" stroke="#000" stroke-width="1" stroke-opacity="0.5"/>
<text font-size="6.55" text-anchor="middle" transform="translate(428.55,667.74) rotate(-45)" y="1.67">RE_F</text>
<line x1="446.15" y1="654.15" x2="446.15" y2="656.45" stroke="#000" stroke-width="1" stroke-opacity="0.5"/>
<text font-size="6.55" text-anchor="middle" transform="translate(446.15,669.97) rotate(-45)" y="1.67">LCM_N</text>
<line x1="463.75" y1="654.15" x2="463.75" y2="656.45" stroke="#000" stroke-width="1" stroke-opacity="0.5"/>
<text font-size="6.55" text-anchor="middle" transform="translate(463.75,669.57) rotate(-45)" y="1.67">LCM_F</text>
<line x1="481.35" y1="654.15" x2="481.35" y2="656.45" stroke="#000" stroke-width="1" stroke-opacity="0.5"/>
<text font-size="6.55" text-anchor="middle" transform="translate(481.35,668.01) rotate(-45)" y="1.67">FR_N</text>
<line x1="498.95" y1="654.15" x2="498.95" y2="656.45" stroke="#000" stroke-width="1" stroke-opacity="0.5"/>
<text font-size="6.55" text-anchor="middle" transform="translate(498.95,667.61) rotate(-45)" y="1.67">FR_F</text>
<text font-size="6.55" text-anchor="middle" transform="translate(300.25,566.27) rotate(-90)">True label</text>
<rect x="519.65" y="478.40" width="9.00" height="175.75" fill="url(#cb)" stroke="#000" stroke-width="1" stroke-opacity="0.5"/>
<line x1="528.65" y1="654.15" x2="530.95" y2="654.15" stroke="#000" stroke-width="1" stroke-opacity="0.5"/>
<text x="533.25" y="656.12" font-size="6.55">0.0</text>
<line x1="528.65" y1="628.75" x2="530.95" y2="628.75" stroke="#000" stroke-width="1" stroke-opacity="0.5"/>
<text x="533.25" y="630.72" font-size="6.55">0.1</text>
<line x1="528.65" y1="603.36" x2="530.95" y2="603.36" stroke="#000" stroke-width="1" stroke-opacity="0.5"/>
<text x="533.25" y="605.32" font-size="6.55">0.2</text>
<line x1="528.65" y1="577.96" x2="530.95" y2="577.96" stroke="#000" stroke-width="1" stroke-opacity="0.5"/>
<text x="533.25" y="579.92" font-size="6.55">0.3</text>
<line x1="528.65" y1="552.56" x2="530.95" y2="552.56" stroke="#000" stroke-width="1" stroke-opacity="0.5"/>
<text x="533.25" y="554.53" font-size="6.55">0.4</text>
<line x1="528.65" y1="527.16" x2="530.95" y2="527.16" stroke="#000" stroke-width="1" stroke-opacity="0.5"/>
<text x="533.25" y="529.13" font-size="6.55">0.5</text>
<line x1="528.65" y1="501.77" x2="530.95" y2="501.77" stroke="#000" stroke-width="1" stroke-opacity="0.5"/>
<text x="533.25" y="503.73" font-size="6.55">0.6</text>
</g>
<text class="cap" x="89.2" y="691.7" font-size="13" font-weight="bold" textLength="16.0" lengthAdjust="spacingAndGlyphs">(a)</text>
<text class="cap" x="108.9" y="691.7" font-size="12.1" textLength="23.6" lengthAdjust="spacingAndGlyphs">Five</text>
<text class="cap" x="135.4" y="691.7" font-size="12.1" textLength="23.9" lengthAdjust="spacingAndGlyphs">class</text>
<text class="cap" x="162.6" y="691.7" font-size="12.1" textLength="47.7" lengthAdjust="spacingAndGlyphs">(Normal)</text>
<text class="cap" x="345.9" y="691.7" font-size="13" font-weight="bold" textLength="17.8" lengthAdjust="spacingAndGlyphs">(b)</text>
<text class="cap" x="367.5" y="691.7" font-size="12.1" textLength="17.7" lengthAdjust="spacingAndGlyphs">Ten</text>
<text class="cap" x="388.6" y="691.7" font-size="12.1" textLength="23.7" lengthAdjust="spacingAndGlyphs">class</text>
<text class="cap" x="416.3" y="691.7" font-size="12.1" textLength="44.2" lengthAdjust="spacingAndGlyphs">(Normal</text>
<text class="cap" x="464.1" y="691.7" font-size="12.1" textLength="18.7" lengthAdjust="spacingAndGlyphs">and</text>
<text class="cap" x="487.5" y="691.7" font-size="12.1" textLength="46.8" lengthAdjust="spacingAndGlyphs">Forceful)</text>
</svg></body></html>
